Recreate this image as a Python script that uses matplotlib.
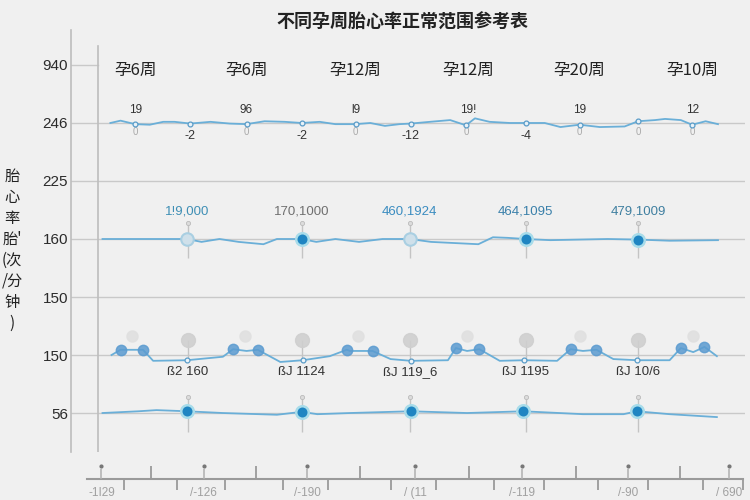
import matplotlib
matplotlib.use("Agg")
import matplotlib.pyplot as plt

plt.rcParams['font.family'] = ['Noto Sans CJK SC', 'DejaVu Sans']
NUM_FONT = ['Liberation Sans Narrow', 'Liberation Sans', 'DejaVu Sans']

# y rows (bottom -> top) and their tick labels
row_labels = ['56', '150', '150', '160', '225', '246', '940']

# week categories (top labels)
cat_x = [0.53, 1.52, 2.49, 3.49, 4.48, 5.48]
cat_labels = ['孕6周', '孕6周', '孕12周', '孕12周', '孕20周', '孕10周']

week_x = [1.0, 2.01, 2.97, 4.0, 5.0]

# top series (row 246)
top_x = [0.31, 0.40, 0.53, 0.66, 0.78, 0.88, 1.02, 1.20, 1.37, 1.52, 1.68, 1.86, 2.01,
         2.17, 2.31, 2.49, 2.62, 2.75, 2.88, 2.98, 3.15, 3.33, 3.47, 3.55, 3.68, 3.86,
         4.00, 4.17, 4.31, 4.48, 4.66, 4.88, 5.00, 5.15, 5.24, 5.38, 5.48, 5.60, 5.71]
top_y = [5.00, 5.04, 4.98, 4.97, 5.02, 5.02, 4.99, 5.02, 4.99, 4.98, 5.03, 5.02, 5.00,
         5.02, 4.98, 4.98, 5.00, 4.95, 4.98, 4.99, 5.02, 5.05, 4.96, 5.08, 5.02, 5.00,
         5.00, 5.00, 4.93, 4.97, 4.93, 4.94, 5.03, 5.05, 5.07, 5.05, 4.97, 5.03, 4.98]
top_marks = [2, 6, 9, 12, 15, 19, 22, 26, 29, 32, 36]
top_above = ['19', '96', 'l9', '19!', '19', '12']
top_below_x = [1.02, 2.01, 2.98, 4.00]
top_below = ['-2', '-2', '-12', '-4']
top_zero_x = [0.53, 1.52, 2.49, 3.47, 4.48, 5.00, 5.48]

# row 160 series
mid_x = [0.24, 0.99, 1.12, 1.28, 1.45, 1.67, 1.79, 1.88, 2.01, 2.14, 2.31, 2.52, 2.73,
         2.97, 3.16, 3.58, 3.71, 3.84, 4.00, 4.22, 4.73, 5.00, 5.28, 5.71]
mid_y = [3.00, 3.00, 2.95, 3.00, 2.95, 2.91, 3.00, 3.00, 3.00, 2.95, 3.00, 2.95, 3.00,
         3.00, 2.95, 2.91, 3.03, 3.02, 3.00, 2.98, 3.00, 2.99, 2.97, 2.98]
mid_marks = [1, 8, 13, 18, 21]
mid_pale = [True, False, True, False, False]
mid_labels = ['1!9,000', '170,1000', '460,1924', '464,1095', '479,1009']
mid_colors = ['#3f8fb5', '#707070', '#3a8cc0', '#3a80aa', '#3f7fa0']

# stepped series (second 150 row)
step_x = [0.32, 0.40, 0.60, 0.69, 0.99, 1.31, 1.40, 1.52, 1.62, 1.82, 2.02, 2.26, 2.41,
          2.44, 2.64, 2.80, 2.98, 3.31, 3.38, 3.48, 3.59, 3.77, 3.99, 4.28, 4.40, 4.51,
          4.63, 4.78, 4.99, 5.28, 5.38, 5.49, 5.59, 5.70]
step_y = [1.00, 1.09, 1.09, 0.90, 0.91, 0.97, 1.10, 1.07, 1.09, 0.88, 0.91, 0.98, 1.09,
          1.07, 1.07, 0.93, 0.90, 0.91, 1.12, 1.07, 1.10, 0.90, 0.91, 0.90, 1.10, 1.07,
          1.09, 0.93, 0.91, 0.91, 1.12, 1.05, 1.14, 0.98]
step_big = [1, 2, 6, 8, 12, 14, 18, 20, 24, 26, 30, 32]
step_small = [4, 10, 16, 22, 28]
step_labels = ['ß2 160', 'ßJ 1124', 'ßJ 119_6', 'ßJ 1195', 'ßJ 10/6']
blob_small_x = [0.50, 1.51, 2.51, 3.48, 4.48, 5.49]

# bottom series (row 56)
low_x = [0.24, 0.56, 0.72, 0.99, 1.31, 1.79, 2.01, 2.15, 2.44, 2.98, 3.48, 3.98, 4.51,
         4.87, 4.99, 5.28, 5.70]
low_y = [0.00, 0.03, 0.05, 0.03, 0.00, -0.03, 0.02, -0.02, 0.00, 0.03, 0.00, 0.03,
         -0.02, -0.02, 0.03, -0.02, -0.07]
low_marks = [3, 6, 9, 11, 14]

# bottom strip axis
strip_x = [0.23, 1.14, 2.06, 3.02, 3.97, 4.91, 5.81]
strip_labels = ['-1I29', '/-126', '/-190', '/ (11', '/-119', '/-90', '/ 690']
strip_tall = [0.67, 1.60, 2.53, 3.50, 4.45, 5.37]
strip_short = [0.43, 0.90, 1.33, 1.84, 2.24, 2.80, 3.20, 3.72, 4.16, 4.64, 5.09, 5.58, 5.93]

BG = '#f0f0f0'
LINE = '#6aafd8'
DARK = '#1f85c2'
RING = '#a8dcea'
GRID = '#c9c9c9'

fig = plt.figure(figsize=(7.5, 5), dpi=100, facecolor=BG)
ax = fig.add_axes([71 / 750, 48 / 500, 674 / 750, 422 / 500], facecolor=BG)
xlo, xhi = -0.04, 5.95
ylo, yhi = -0.672, 6.603
ax.set_xlim(xlo, xhi)
ax.set_ylim(ylo, yhi)

for s in ['top', 'right', 'bottom']:
    ax.spines[s].set_visible(False)
ax.spines['left'].set_color('#bdbdbd')
ax.spines['left'].set_linewidth(1.2)

for r in range(6):
    ax.axhline(r, color=GRID, lw=1, zorder=0)
ax.axhline(6, xmax=(0.2 - xlo) / (xhi - xlo), color=GRID, lw=1, zorder=0)
ax.axvline(0.2, ymax=(6.33 - ylo) / (yhi - ylo), color='#bdbdbd', lw=1.2, zorder=0)

ax.set_xticks([])
ax.set_yticks(range(7))
ax.set_yticklabels(row_labels, family=NUM_FONT, fontsize=11, color='#2b2b2b')
ax.tick_params(axis='y', length=0, pad=2)

# category labels
for x, t in zip(cat_x, cat_labels):
    ax.text(x, 5.9, t, ha='center', va='center', fontsize=12, color='#222222')

# top series
ax.plot(top_x, top_y, color=LINE, lw=1.3, zorder=3)
ax.plot([top_x[i] for i in top_marks], [top_y[i] for i in top_marks], 'o', ms=3.5,
        mfc='#e8f2f8', mec='#5a9cc8', mew=0.9, zorder=4)
for x, t in zip(cat_x, top_above):
    ax.text(x, 5.23, t, ha='center', va='center', fontsize=8.5, family=NUM_FONT, color='#333333')
for x in top_zero_x:
    ax.text(x, 4.84, '0', ha='center', va='center', fontsize=7, family=NUM_FONT, color='#aaaaaa')
for x, t in zip(top_below_x, top_below):
    ax.text(x, 4.77, t, ha='center', va='center', fontsize=9, family=NUM_FONT, color='#333333')

# row 160 series
ax.vlines(week_x, 2.67, 3.28, color='#c4c4c4', lw=1, zorder=2)
ax.plot(week_x, [3.28] * 5, 'o', ms=3, mfc='#dcdcdc', mec='#bbbbbb', mew=0.6, zorder=3)
ax.plot(mid_x, mid_y, color=LINE, lw=1.3, zorder=3)
for i, pale, lab, c in zip(mid_marks, mid_pale, mid_labels, mid_colors):
    if pale:
        ax.plot(mid_x[i], mid_y[i], 'o', ms=9, mfc='#cfe0ea', mec='#a9cfe2', mew=1.5, zorder=5)
    else:
        ax.plot(mid_x[i], mid_y[i], 'o', ms=9, mfc=DARK, mec=RING, mew=1.8, zorder=5)
    ax.text(mid_x[i], 3.47, lab, ha='center', va='center', fontsize=9.5,
            family=NUM_FONT, color=c)

# stepped series
ax.vlines(week_x, 0.91, 1.26, color='#c4c4c4', lw=1, zorder=2)
ax.plot(week_x, [1.26] * 5, 'o', ms=10, color='#cfcfcf', alpha=0.9, zorder=2)
ax.plot(blob_small_x, [1.33] * 6, 'o', ms=8, color='#e0e0e0', alpha=0.9, zorder=2)
ax.plot(step_x, step_y, color=LINE, lw=1.3, zorder=3)
ax.plot([step_x[i] for i in step_big], [step_y[i] for i in step_big], 'o', ms=7.5,
        color='#5b9bd0', alpha=0.85, zorder=4)
ax.plot([step_x[i] for i in step_small], [step_y[i] for i in step_small], 'o', ms=3.5,
        mfc='#eef5fa', mec='#5a9cc8', mew=0.9, zorder=4)
for x, t in zip(week_x, step_labels):
    ax.text(x, 0.71, t, ha='center', va='center', fontsize=9.5, family=NUM_FONT, color='#333333')

# bottom series
ax.vlines(week_x, -0.33, 0.28, color='#c4c4c4', lw=1, zorder=2)
ax.plot(week_x, [0.28] * 5, 'o', ms=3, mfc='#dcdcdc', mec='#bbbbbb', mew=0.6, zorder=3)
ax.plot(low_x, low_y, color=LINE, lw=1.3, zorder=3)
ax.plot([low_x[i] for i in low_marks], [low_y[i] for i in low_marks], 'o', ms=9,
        mfc=DARK, mec=RING, mew=1.8, zorder=5)

# bottom strip axis
ax2 = fig.add_axes([71 / 750, 0, 674 / 750, 40 / 500], facecolor='none')
ax2.set_xlim(xlo, xhi)
ax2.set_ylim(40, 0)
ax2.axis('off')
ax2.plot([0.10, 5.93], [19, 19], color='#9a9a9a', lw=1.5, clip_on=False)
ax2.vlines(strip_tall, 6, 19, color='#9a9a9a', lw=1.3)
ax2.vlines(strip_short, 19, 30, color='#9a9a9a', lw=1.3)
ax2.vlines(strip_x, 9, 19, color='#b0b0b0', lw=1.1)
ax2.plot(strip_x, [6] * 7, 'o', ms=2, color='#777777')
for x, t in zip(strip_x, strip_labels):
    ax2.text(x, 33, t, ha='center', va='center', fontsize=8.5, family=NUM_FONT, color='#a0a0a0')

fig.text(0.537, 0.956, '不同孕周胎心率正常范围参考表', ha='center', va='center',
         fontsize=13, fontweight='bold', color='#222222')
fig.text(0.016, 0.5, "胎\n心\n率\n胎'\n(次\n/分\n钟\n)", ha='center', va='center',
         fontsize=11, linespacing=1.3, color='#222222')

fig.savefig('out.png', dpi=100, facecolor=BG)
